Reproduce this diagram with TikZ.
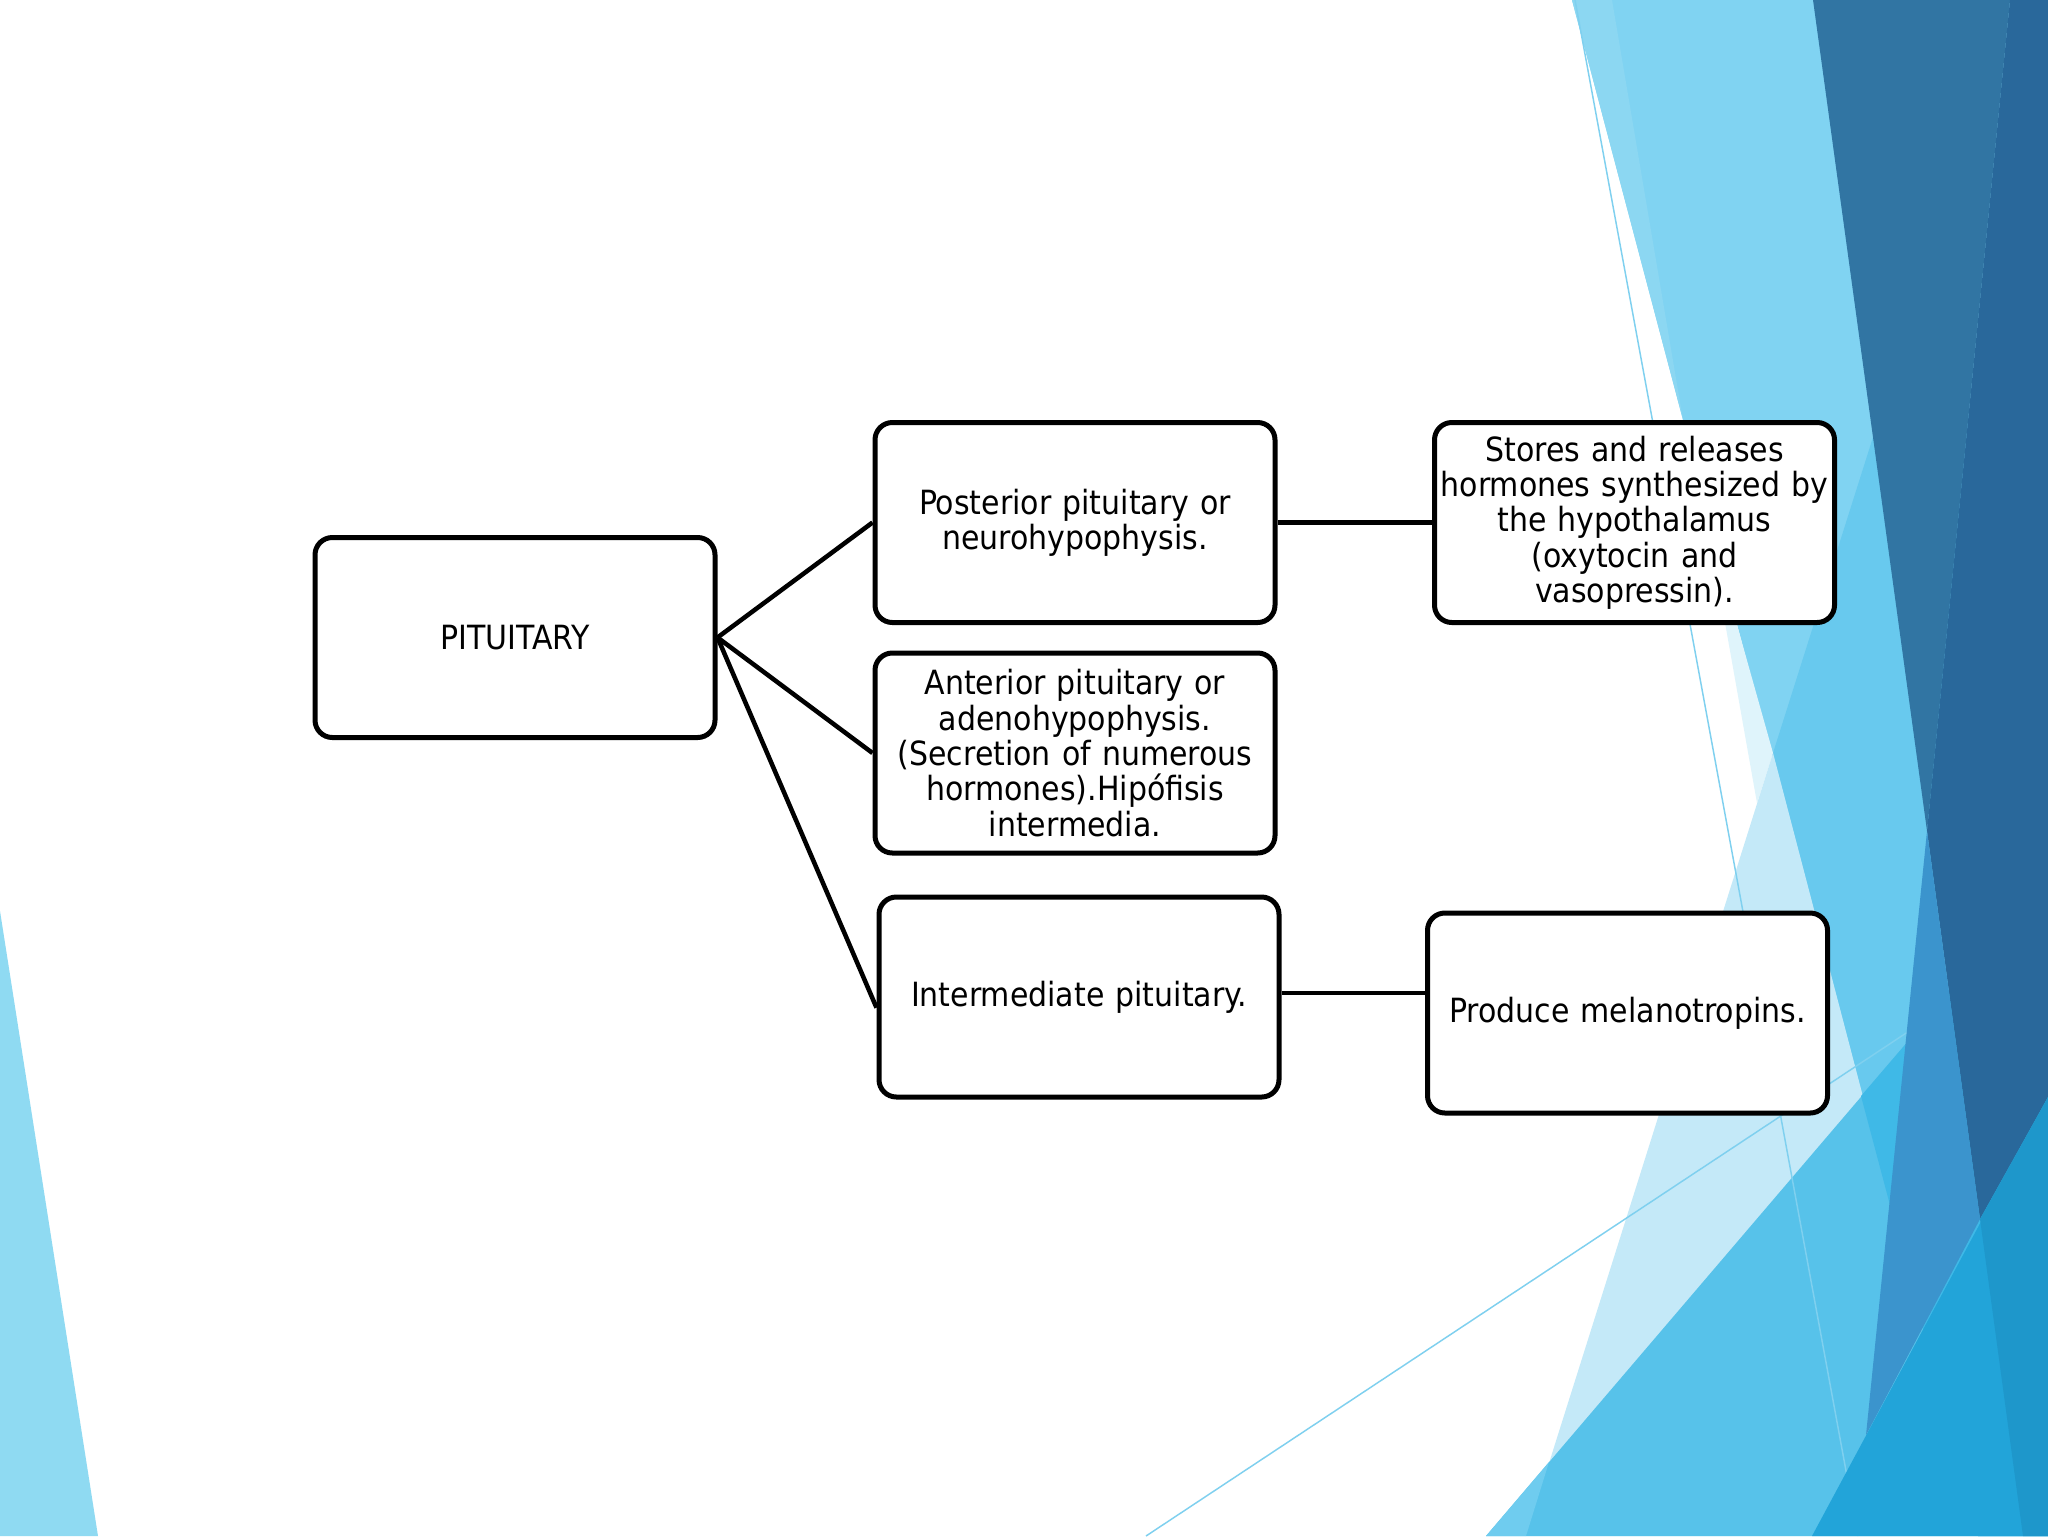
\documentclass[tikz,border=0pt]{standalone}
\usepackage{fontspec}
\setmainfont{DejaVu Sans Condensed}
\definecolor{cLight}{HTML}{80D3F2}
\definecolor{cStrip}{HTML}{8CD7F2}
\definecolor{cCyan}{HTML}{68C9EE}
\definecolor{cVPale}{HTML}{DFF4FB}
\definecolor{cPale}{HTML}{C4E9F8}
\definecolor{cLine}{HTML}{7FD0EF}
\definecolor{cT1}{HTML}{57C2EA}
\definecolor{cT1light}{HTML}{6FCCEF}
\definecolor{cT1b}{HTML}{3FB9E7}
\definecolor{cDark}{HTML}{3175A3}
\definecolor{cDarker}{HTML}{29689B}
\definecolor{cMed}{HTML}{3B94CD}
\definecolor{cT2}{HTML}{22A4D9}
\definecolor{cT2d}{HTML}{1E97CB}
\definecolor{cLeft}{HTML}{8FDAF2}
\begin{document}
\begin{tikzpicture}[x=0.75pt,y=-0.75pt,
  box/.style={draw=black, line width=3.75pt, rounded corners=13pt, fill=white,
    minimum width=300pt, minimum height=150pt, text width=294pt,
    align=center, inner sep=3pt, font=\fontsize{25}{26.5}\selectfont},
  conn/.style={draw=black, line width=3.4pt},
  thin/.style={draw=cLine, line width=1.1pt}]
\useasboundingbox (0,0) rectangle (2048,1536);
\fill[white] (0,0) rectangle (2048,1536);
% background facets
\fill[cLight] (1572,0) -- (2048,0) -- (2048,1536) -- (1978,1536) -- cycle;
\fill[cStrip] (1572,0) -- (1612,0) -- (1683,420) -- cycle;
\fill[cCyan] (1880,415) -- (1773,753) -- (1978,1536) -- (2048,1536) -- (2048,415) -- cycle;
\fill[cVPale] (1721,600) -- (1730,600) -- (1773,753) -- (1757,803) -- cycle;
\fill[cPale] (1773,753) -- (1526,1536) -- (1978,1536) -- cycle;
\draw[thin] (1146,1536) -- (1950,1004);
\fill[cT1] (1486,1536) -- (1907,1043) -- (2048,878) -- (2048,1536) -- cycle;
\fill[cT1light] (1486,1536) -- (1526,1536) -- (1549,1462) -- cycle;
\fill[cT1b] (1861,1096) -- (2048,878) -- (2048,1536) -- (1978,1536) -- cycle;
\draw[thin] (1575,0) -- (1858,1536);
\fill[cDark] (1813,0) -- (2010,0) -- (1927,831) -- cycle;
\fill[cDarker] (2010,0) -- (2048,0) -- (2048,1097) -- (1980,1219) -- (1927,831) -- cycle;
\fill[cMed] (1927,831) -- (1980,1219) -- (1866,1435) -- cycle;
\fill[cT2] (1812,1536) -- (2048,1097) -- (2048,1536) -- cycle;
\fill[cT2d] (1980,1219) -- (2048,1097) -- (2048,1536) -- (2023,1536) -- cycle;
\fill[cLeft] (0,911) -- (98,1536) -- (0,1536) -- cycle;
% nodes
\node[box] (pit) at (515,637.5) {PITUITARY};
\node[box] (post) at (1075,522.5) {Posterior pituitary or\\ neurohypophysis.};
\node[box] (ant) at (1075,753) {Anterior pituitary or\\ adenohypophysis.\\ (Secretion of numerous\\ hormones).Hipófisis\\ intermedia.};
\node[box] (inter) at (1079,997) {Intermediate pituitary.};
\node[box] (stores) at (1634.5,522.5) {Stores and releases\\ hormones synthesized by\\ the hypothalamus\\ (oxytocin and\\ vasopressin).};
\node[box] (prod) at (1627.5,1013) {Produce melanotropins.};
% connectors
\draw[conn] (pit.east) -- (post.west);
\draw[conn] (pit.east) -- (ant.west);
\draw[conn] (pit.east) -- ([yshift=-8pt]inter.west);
\draw[conn] (post.east) -- (stores.west);
\draw[conn] ([yshift=3pt]inter.east) -- ([yshift=3pt]inter.east -| prod.west);
\end{tikzpicture}
\end{document}
